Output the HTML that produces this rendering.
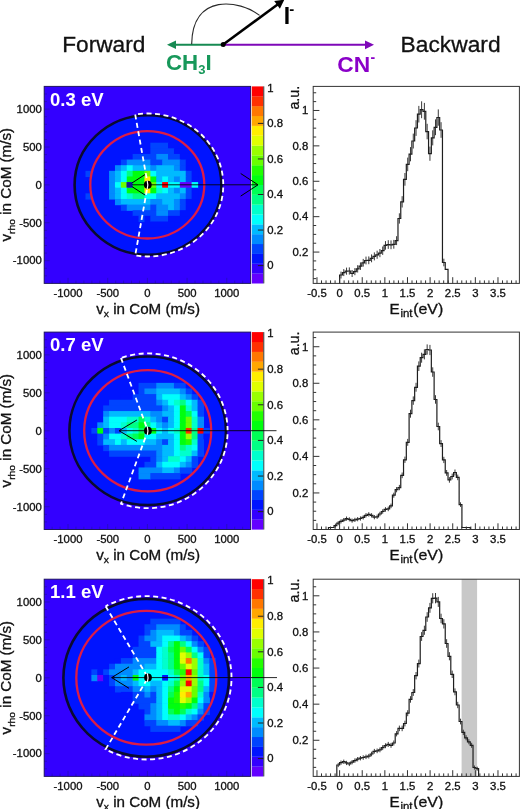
<!DOCTYPE html><html><head><meta charset="utf-8"><style>html,body{margin:0;padding:0;background:#fff;overflow:hidden}svg{display:block;filter:blur(0.35px)}text{font-family:'Liberation Sans',Arial,sans-serif}</style></head><body>
<svg width="520" height="809" viewBox="0 0 520 809">
<rect width="520" height="809" fill="#fff"/>
<g id="hdr">
<text transform="translate(62.2 52.1) scale(1.04 1)" font-size="21.8" fill="#111" stroke="#111" stroke-width="0.3">Forward</text>
<text transform="translate(400.6 52.1) scale(1.045 1)" font-size="21.8" fill="#111" stroke="#111" stroke-width="0.3">Backward</text>
<line x1="223.2" y1="44.8" x2="174" y2="44.8" stroke="#168a52" stroke-width="2"/>
<path d="M167 44.8 L176 40.6 L176 49 Z" fill="#168a52"/>
<line x1="223.2" y1="44.8" x2="366" y2="44.8" stroke="#7e08b8" stroke-width="2"/>
<path d="M374 44.8 L365 40.4 L365 49.2 Z" fill="#7e08b8"/>
<path d="M191.65 44.2 C192.42 -7.77 239.97 0.21 259.6 15.35" fill="none" stroke="#2a2a2a" stroke-width="1.15"/>
<line x1="223.2" y1="44.5" x2="277.6" y2="4.5" stroke="#000" stroke-width="2.5"/>
<path d="M284.3 -0.3 L274.2 0.9 L279.9 8.7 Z" fill="#000"/>
<circle cx="223.2" cy="44.6" r="2.5" fill="#000"/>
<text x="283.8" y="23.6" font-size="23" font-weight="bold" fill="#000">I</text>
<text x="289.3" y="14.4" font-size="15" font-weight="bold" fill="#000">-</text>
<text x="166" y="69.5" font-size="22.3" font-weight="bold" fill="#17985a">CH<tspan font-size="13" dy="4.5">3</tspan><tspan dy="-4.5">I</tspan></text>
<text x="337.3" y="71.6" font-size="22.8" font-weight="bold" fill="#8a00c8">CN</text>
<text x="370.6" y="62.4" font-size="14" font-weight="bold" fill="#8a00c8">-</text>
</g>
<g id="L0">
<rect x="44.2" y="86.4" width="206.4" height="197" fill="#3300ff"/>
<ellipse cx="148" cy="185" rx="73.4" ry="69.8" fill="#0014ff"/>
<rect x="150.35" y="142.69" width="18.29" height="6.23" fill="#0044ff"/>
<rect x="168.04" y="142.69" width="24.19" height="6.23" fill="#0014ff"/>
<rect x="138.55" y="148.31" width="12.39" height="6.23" fill="#0014ff"/>
<rect x="150.35" y="148.31" width="24.19" height="6.23" fill="#0044ff"/>
<rect x="173.94" y="148.31" width="18.29" height="6.23" fill="#0014ff"/>
<rect x="132.66" y="153.94" width="24.19" height="6.23" fill="#0044ff"/>
<rect x="156.25" y="153.94" width="12.39" height="6.23" fill="#008bff"/>
<rect x="168.04" y="153.94" width="12.39" height="6.23" fill="#0044ff"/>
<rect x="179.83" y="153.94" width="12.39" height="6.23" fill="#0014ff"/>
<rect x="120.86" y="159.57" width="6.5" height="6.23" fill="#0044ff"/>
<rect x="126.76" y="159.57" width="24.19" height="6.23" fill="#008bff"/>
<rect x="150.35" y="159.57" width="12.39" height="6.23" fill="#0044ff"/>
<rect x="162.14" y="159.57" width="18.29" height="6.23" fill="#008bff"/>
<rect x="179.83" y="159.57" width="6.5" height="6.23" fill="#0044ff"/>
<rect x="185.73" y="159.57" width="6.5" height="6.23" fill="#0014ff"/>
<rect x="114.97" y="165.2" width="6.5" height="6.23" fill="#008bff"/>
<rect x="120.86" y="165.2" width="6.5" height="6.23" fill="#00bbff"/>
<rect x="126.76" y="165.2" width="6.5" height="6.23" fill="#00fffc"/>
<rect x="132.66" y="165.2" width="18.29" height="6.23" fill="#00bbff"/>
<rect x="150.35" y="165.2" width="6.5" height="6.23" fill="#008bff"/>
<rect x="156.25" y="165.2" width="18.29" height="6.23" fill="#00bbff"/>
<rect x="173.94" y="165.2" width="6.5" height="6.23" fill="#008bff"/>
<rect x="179.83" y="165.2" width="6.5" height="6.23" fill="#0044ff"/>
<rect x="185.73" y="165.2" width="6.5" height="6.23" fill="#0014ff"/>
<rect x="85.48" y="170.83" width="6.5" height="6.23" fill="#0044ff"/>
<rect x="109.07" y="170.83" width="6.5" height="6.23" fill="#008bff"/>
<rect x="114.97" y="170.83" width="6.5" height="6.23" fill="#00bbff"/>
<rect x="120.86" y="170.83" width="6.5" height="6.23" fill="#00fffc"/>
<rect x="126.76" y="170.83" width="6.5" height="6.23" fill="#00ff85"/>
<rect x="132.66" y="170.83" width="12.39" height="6.23" fill="#00ff0e"/>
<rect x="144.45" y="170.83" width="6.5" height="6.23" fill="#69ff00"/>
<rect x="150.35" y="170.83" width="6.5" height="6.23" fill="#00fffc"/>
<rect x="156.25" y="170.83" width="30.09" height="6.23" fill="#00bbff"/>
<rect x="185.73" y="170.83" width="6.5" height="6.23" fill="#0044ff"/>
<rect x="191.63" y="170.83" width="6.5" height="6.23" fill="#0014ff"/>
<rect x="109.07" y="176.46" width="6.5" height="6.23" fill="#008bff"/>
<rect x="114.97" y="176.46" width="6.5" height="6.23" fill="#00bbff"/>
<rect x="120.86" y="176.46" width="6.5" height="6.23" fill="#00fffc"/>
<rect x="126.76" y="176.46" width="18.29" height="6.23" fill="#00ff0e"/>
<rect x="144.45" y="176.46" width="6.5" height="6.23" fill="#ffee00"/>
<rect x="150.35" y="176.46" width="6.5" height="6.23" fill="#00ff0e"/>
<rect x="156.25" y="176.46" width="6.5" height="6.23" fill="#00bbff"/>
<rect x="162.14" y="176.46" width="6.5" height="6.23" fill="#00fffc"/>
<rect x="168.04" y="176.46" width="6.5" height="6.23" fill="#00bbff"/>
<rect x="173.94" y="176.46" width="6.5" height="6.23" fill="#008bff"/>
<rect x="179.83" y="176.46" width="6.5" height="6.23" fill="#00bbff"/>
<rect x="185.73" y="176.46" width="6.5" height="6.23" fill="#0044ff"/>
<rect x="191.63" y="176.46" width="6.5" height="6.23" fill="#0014ff"/>
<rect x="109.07" y="182.09" width="6.5" height="6.23" fill="#008bff"/>
<rect x="114.97" y="182.09" width="6.5" height="6.23" fill="#00fffc"/>
<rect x="120.86" y="182.09" width="6.5" height="6.23" fill="#69ff00"/>
<rect x="126.76" y="182.09" width="6.5" height="6.23" fill="#0044ff"/>
<rect x="132.66" y="182.09" width="12.39" height="6.23" fill="#00ff0e"/>
<rect x="144.45" y="182.09" width="6.5" height="6.23" fill="#ffee00"/>
<rect x="150.35" y="182.09" width="6.5" height="6.23" fill="#69ff00"/>
<rect x="156.25" y="182.09" width="6.5" height="6.23" fill="#00fffc"/>
<rect x="162.14" y="182.09" width="6.5" height="6.23" fill="#ff0000"/>
<rect x="168.04" y="182.09" width="12.39" height="6.23" fill="#00fffc"/>
<rect x="179.83" y="182.09" width="12.39" height="6.23" fill="#6300ff"/>
<rect x="191.63" y="182.09" width="6.5" height="6.23" fill="#00fffc"/>
<rect x="203.42" y="182.09" width="6.5" height="6.23" fill="#0014ff"/>
<rect x="109.07" y="187.71" width="6.5" height="6.23" fill="#008bff"/>
<rect x="114.97" y="187.71" width="6.5" height="6.23" fill="#00bbff"/>
<rect x="120.86" y="187.71" width="6.5" height="6.23" fill="#00fffc"/>
<rect x="126.76" y="187.71" width="18.29" height="6.23" fill="#00ff0e"/>
<rect x="144.45" y="187.71" width="6.5" height="6.23" fill="#ffee00"/>
<rect x="150.35" y="187.71" width="6.5" height="6.23" fill="#00ff0e"/>
<rect x="156.25" y="187.71" width="6.5" height="6.23" fill="#00ffcc"/>
<rect x="162.14" y="187.71" width="6.5" height="6.23" fill="#00fffc"/>
<rect x="168.04" y="187.71" width="6.5" height="6.23" fill="#00bbff"/>
<rect x="173.94" y="187.71" width="6.5" height="6.23" fill="#008bff"/>
<rect x="179.83" y="187.71" width="6.5" height="6.23" fill="#00bbff"/>
<rect x="185.73" y="187.71" width="6.5" height="6.23" fill="#0044ff"/>
<rect x="191.63" y="187.71" width="6.5" height="6.23" fill="#0014ff"/>
<rect x="85.48" y="193.34" width="6.5" height="6.23" fill="#0044ff"/>
<rect x="109.07" y="193.34" width="6.5" height="6.23" fill="#008bff"/>
<rect x="114.97" y="193.34" width="6.5" height="6.23" fill="#00bbff"/>
<rect x="120.86" y="193.34" width="6.5" height="6.23" fill="#00fffc"/>
<rect x="126.76" y="193.34" width="6.5" height="6.23" fill="#00ffcc"/>
<rect x="132.66" y="193.34" width="12.39" height="6.23" fill="#00ff85"/>
<rect x="144.45" y="193.34" width="12.39" height="6.23" fill="#00fffc"/>
<rect x="156.25" y="193.34" width="24.19" height="6.23" fill="#00bbff"/>
<rect x="179.83" y="193.34" width="6.5" height="6.23" fill="#008bff"/>
<rect x="185.73" y="193.34" width="6.5" height="6.23" fill="#0044ff"/>
<rect x="191.63" y="193.34" width="6.5" height="6.23" fill="#0014ff"/>
<rect x="114.97" y="198.97" width="6.5" height="6.23" fill="#008bff"/>
<rect x="120.86" y="198.97" width="30.09" height="6.23" fill="#00bbff"/>
<rect x="150.35" y="198.97" width="12.39" height="6.23" fill="#008bff"/>
<rect x="162.14" y="198.97" width="12.39" height="6.23" fill="#00bbff"/>
<rect x="173.94" y="198.97" width="6.5" height="6.23" fill="#008bff"/>
<rect x="179.83" y="198.97" width="6.5" height="6.23" fill="#0044ff"/>
<rect x="185.73" y="198.97" width="6.5" height="6.23" fill="#0014ff"/>
<rect x="120.86" y="204.6" width="6.5" height="6.23" fill="#0044ff"/>
<rect x="126.76" y="204.6" width="24.19" height="6.23" fill="#008bff"/>
<rect x="150.35" y="204.6" width="6.5" height="6.23" fill="#0044ff"/>
<rect x="156.25" y="204.6" width="12.39" height="6.23" fill="#008bff"/>
<rect x="168.04" y="204.6" width="6.5" height="6.23" fill="#00bbff"/>
<rect x="173.94" y="204.6" width="6.5" height="6.23" fill="#008bff"/>
<rect x="179.83" y="204.6" width="6.5" height="6.23" fill="#0044ff"/>
<rect x="185.73" y="204.6" width="6.5" height="6.23" fill="#0014ff"/>
<rect x="132.66" y="210.23" width="24.19" height="6.23" fill="#0044ff"/>
<rect x="156.25" y="210.23" width="12.39" height="6.23" fill="#008bff"/>
<rect x="168.04" y="210.23" width="12.39" height="6.23" fill="#0044ff"/>
<rect x="179.83" y="210.23" width="12.39" height="6.23" fill="#0014ff"/>
<rect x="132.66" y="215.86" width="6.5" height="6.23" fill="#0014ff"/>
<rect x="138.55" y="215.86" width="6.5" height="6.23" fill="#0044ff"/>
<rect x="144.45" y="215.86" width="6.5" height="6.23" fill="#0014ff"/>
<rect x="150.35" y="215.86" width="18.29" height="6.23" fill="#0044ff"/>
<rect x="168.04" y="215.86" width="12.39" height="6.23" fill="#0014ff"/>
<rect x="150.35" y="221.49" width="24.19" height="6.23" fill="#0014ff"/>
<ellipse cx="148" cy="185" rx="73.4" ry="69.8" fill="none" stroke="#0a0a30" stroke-width="2.6"/><ellipse cx="147.3" cy="184.8" rx="57" ry="53.7" fill="none" stroke="#dc1c46" stroke-width="2.3"/><path d="M135.2 114.5 L147.8 184.8 L135.2 255.5 A75.5 71.5 0 1 0 135.2 114.5" fill="none" stroke="#fff" stroke-width="1.8" stroke-dasharray="5 3.5"/><path d="M145.1 174.5 L129.2 184.8 L145.1 195.10000000000002" fill="none" stroke="#000" stroke-width="1"/><line x1="129.2" y1="184.8" x2="250.6" y2="184.8" stroke="#000" stroke-width="1" opacity="0.85"/><rect x="126.6" y="182.20000000000002" width="5.2" height="5.2" fill="#1a1890"/><ellipse cx="147.8" cy="184.8" rx="3.9" ry="4" fill="#000"/><path d="M147.20000000000002 180.60000000000002 Q148.4 184.8 147.20000000000002 189.0" fill="none" stroke="#fff" stroke-width="1.2"/>
<path d="M52.14 283.4v-2.8 M60.08 283.4v-2.8 M68.02 283.4v-5.5 M75.95 283.4v-2.8 M83.89 283.4v-2.8 M91.83 283.4v-2.8 M99.77 283.4v-2.8 M107.71 283.4v-5.5 M115.65 283.4v-2.8 M123.58 283.4v-2.8 M131.52 283.4v-2.8 M139.46 283.4v-2.8 M147.4 283.4v-5.5 M155.34 283.4v-2.8 M163.28 283.4v-2.8 M171.22 283.4v-2.8 M179.15 283.4v-2.8 M187.09 283.4v-5.5 M195.03 283.4v-2.8 M202.97 283.4v-2.8 M210.91 283.4v-2.8 M218.85 283.4v-2.8 M226.78 283.4v-5.5 M234.72 283.4v-2.8 M242.66 283.4v-2.8 M44.2 275.82h2.8 M44.2 268.25h2.8 M44.2 260.67h5.5 M44.2 253.09h2.8 M44.2 245.52h2.8 M44.2 237.94h2.8 M44.2 230.36h2.8 M44.2 222.78h5.5 M44.2 215.21h2.8 M44.2 207.63h2.8 M44.2 200.05h2.8 M44.2 192.48h2.8 M44.2 184.9h5.5 M44.2 177.32h2.8 M44.2 169.75h2.8 M44.2 162.17h2.8 M44.2 154.59h2.8 M44.2 147.02h5.5 M44.2 139.44h2.8 M44.2 131.86h2.8 M44.2 124.28h2.8 M44.2 116.71h2.8 M44.2 109.13h5.5 M44.2 101.55h2.8 M44.2 93.98h2.8" stroke="#102060" stroke-width="1" fill="none" opacity="0.35"/>
<rect x="44.2" y="86.4" width="206.4" height="197" fill="none" stroke="#140c50" stroke-width="1" opacity="0.9"/>
<text transform="translate(50 105.6) scale(1.03 1)" font-size="18" font-weight="bold" fill="#fff">0.3 eV</text>
<text transform="translate(68.02 296.9) scale(1.08 1)" font-size="10.5" text-anchor="middle" fill="#111" stroke="#111" stroke-width="0.3">-1000</text>
<text transform="translate(41.8 264.47) scale(1.08 1)" font-size="10.5" text-anchor="end" fill="#111" stroke="#111" stroke-width="0.3">-1000</text>
<text transform="translate(107.71 296.9) scale(1.08 1)" font-size="10.5" text-anchor="middle" fill="#111" stroke="#111" stroke-width="0.3">-500</text>
<text transform="translate(41.8 226.58) scale(1.08 1)" font-size="10.5" text-anchor="end" fill="#111" stroke="#111" stroke-width="0.3">-500</text>
<text transform="translate(147.4 296.9) scale(1.08 1)" font-size="10.5" text-anchor="middle" fill="#111" stroke="#111" stroke-width="0.3">0</text>
<text transform="translate(41.8 188.7) scale(1.08 1)" font-size="10.5" text-anchor="end" fill="#111" stroke="#111" stroke-width="0.3">0</text>
<text transform="translate(187.09 296.9) scale(1.08 1)" font-size="10.5" text-anchor="middle" fill="#111" stroke="#111" stroke-width="0.3">500</text>
<text transform="translate(41.8 150.82) scale(1.08 1)" font-size="10.5" text-anchor="end" fill="#111" stroke="#111" stroke-width="0.3">500</text>
<text transform="translate(226.78 296.9) scale(1.08 1)" font-size="10.5" text-anchor="middle" fill="#111" stroke="#111" stroke-width="0.3">1000</text>
<text transform="translate(41.8 112.93) scale(1.08 1)" font-size="10.5" text-anchor="end" fill="#111" stroke="#111" stroke-width="0.3">1000</text>
<text transform="translate(96.2 313.7) scale(1.085 1)" font-size="14" fill="#111" stroke="#111" stroke-width="0.3">v<tspan font-size="9.5" dy="3">x</tspan><tspan dy="-3"> in CoM (m/s)</tspan></text>
<text transform="translate(11.2 241.5) rotate(-90) scale(1.085 1)" font-size="14" fill="#111" stroke="#111" stroke-width="0.3">v<tspan font-size="9.5" dy="3.4">rho</tspan><tspan dy="-3.4"> in CoM (m/s)</tspan></text>
<rect x="251.8" y="273.55" width="11.6" height="9.95" fill="#6300ff"/>
<rect x="251.8" y="263.7" width="11.6" height="9.95" fill="#3300ff"/>
<rect x="251.8" y="253.85" width="11.6" height="9.95" fill="#0014ff"/>
<rect x="251.8" y="244" width="11.6" height="9.95" fill="#0044ff"/>
<rect x="251.8" y="234.15" width="11.6" height="9.95" fill="#008bff"/>
<rect x="251.8" y="224.3" width="11.6" height="9.95" fill="#00bbff"/>
<rect x="251.8" y="214.45" width="11.6" height="9.95" fill="#00fffc"/>
<rect x="251.8" y="204.6" width="11.6" height="9.95" fill="#00ffcc"/>
<rect x="251.8" y="194.75" width="11.6" height="9.95" fill="#00ff85"/>
<rect x="251.8" y="184.9" width="11.6" height="9.95" fill="#00ff55"/>
<rect x="251.8" y="175.05" width="11.6" height="9.95" fill="#00ff0e"/>
<rect x="251.8" y="165.2" width="11.6" height="9.95" fill="#22ff00"/>
<rect x="251.8" y="155.35" width="11.6" height="9.95" fill="#69ff00"/>
<rect x="251.8" y="145.5" width="11.6" height="9.95" fill="#99ff00"/>
<rect x="251.8" y="135.65" width="11.6" height="9.95" fill="#e0ff00"/>
<rect x="251.8" y="125.8" width="11.6" height="9.95" fill="#ffee00"/>
<rect x="251.8" y="115.95" width="11.6" height="9.95" fill="#ffa700"/>
<rect x="251.8" y="106.1" width="11.6" height="9.95" fill="#ff7700"/>
<rect x="251.8" y="96.25" width="11.6" height="9.95" fill="#ff3000"/>
<rect x="251.8" y="86.4" width="11.6" height="9.95" fill="#ff0000"/>
<line x1="263.8" y1="86.4" x2="263.8" y2="283.4" stroke="#1a2a2a" stroke-width="0.9"/>
<line x1="257.9" y1="265.62" x2="263.4" y2="265.62" stroke="#222" stroke-width="1"/>
<text transform="translate(267.3 269.42) scale(1.08 1)" font-size="10.5" fill="#111" stroke="#111" stroke-width="0.3">0</text>
<line x1="257.9" y1="230.06" x2="263.4" y2="230.06" stroke="#222" stroke-width="1"/>
<text transform="translate(267.3 233.86) scale(1.08 1)" font-size="10.5" fill="#111" stroke="#111" stroke-width="0.3">0.2</text>
<line x1="257.9" y1="194.5" x2="263.4" y2="194.5" stroke="#222" stroke-width="1"/>
<text transform="translate(267.3 198.3) scale(1.08 1)" font-size="10.5" fill="#111" stroke="#111" stroke-width="0.3">0.4</text>
<line x1="257.9" y1="158.94" x2="263.4" y2="158.94" stroke="#222" stroke-width="1"/>
<text transform="translate(267.3 162.74) scale(1.08 1)" font-size="10.5" fill="#111" stroke="#111" stroke-width="0.3">0.6</text>
<line x1="257.9" y1="123.38" x2="263.4" y2="123.38" stroke="#222" stroke-width="1"/>
<text transform="translate(267.3 127.18) scale(1.08 1)" font-size="10.5" fill="#111" stroke="#111" stroke-width="0.3">0.8</text>
<text transform="translate(267.3 91.62) scale(1.08 1)" font-size="10.5" fill="#111" stroke="#111" stroke-width="0.3">1</text>
<line x1="250.6" y1="184.8" x2="258" y2="184.8" stroke="#000" stroke-width="1" opacity="0.85"/><path d="M240.7 173.5 L258 184.8 L240.7 196.10000000000002" fill="none" stroke="#000" stroke-width="1"/>
</g>
<g id="L1">
<rect x="44.2" y="332.1" width="206.4" height="197.4" fill="#3300ff"/>
<ellipse cx="147.7" cy="430.8" rx="78.3" ry="74.3" fill="#0014ff"/>
<rect x="150.35" y="377.22" width="24.19" height="6.24" fill="#0014ff"/>
<rect x="138.55" y="382.86" width="18.29" height="6.24" fill="#0044ff"/>
<rect x="156.25" y="382.86" width="18.29" height="6.24" fill="#008bff"/>
<rect x="173.94" y="382.86" width="12.39" height="6.24" fill="#0044ff"/>
<rect x="185.73" y="382.86" width="6.5" height="6.24" fill="#0014ff"/>
<rect x="138.55" y="388.5" width="6.5" height="6.24" fill="#0044ff"/>
<rect x="144.45" y="388.5" width="12.39" height="6.24" fill="#008bff"/>
<rect x="156.25" y="388.5" width="24.19" height="6.24" fill="#00bbff"/>
<rect x="179.83" y="388.5" width="6.5" height="6.24" fill="#008bff"/>
<rect x="185.73" y="388.5" width="6.5" height="6.24" fill="#0044ff"/>
<rect x="120.86" y="394.14" width="12.39" height="6.24" fill="#0014ff"/>
<rect x="132.66" y="394.14" width="24.19" height="6.24" fill="#0044ff"/>
<rect x="156.25" y="394.14" width="6.5" height="6.24" fill="#00bbff"/>
<rect x="162.14" y="394.14" width="18.29" height="6.24" fill="#00fffc"/>
<rect x="179.83" y="394.14" width="6.5" height="6.24" fill="#00bbff"/>
<rect x="185.73" y="394.14" width="6.5" height="6.24" fill="#008bff"/>
<rect x="191.63" y="394.14" width="6.5" height="6.24" fill="#0044ff"/>
<rect x="109.07" y="399.78" width="47.78" height="6.24" fill="#0044ff"/>
<rect x="156.25" y="399.78" width="6.5" height="6.24" fill="#008bff"/>
<rect x="162.14" y="399.78" width="6.5" height="6.24" fill="#00bbff"/>
<rect x="168.04" y="399.78" width="6.5" height="6.24" fill="#00fffc"/>
<rect x="173.94" y="399.78" width="6.5" height="6.24" fill="#00ffcc"/>
<rect x="179.83" y="399.78" width="6.5" height="6.24" fill="#00ff85"/>
<rect x="185.73" y="399.78" width="6.5" height="6.24" fill="#00fffc"/>
<rect x="191.63" y="399.78" width="6.5" height="6.24" fill="#00bbff"/>
<rect x="197.53" y="399.78" width="6.5" height="6.24" fill="#0044ff"/>
<rect x="103.17" y="405.42" width="59.57" height="6.24" fill="#0044ff"/>
<rect x="162.14" y="405.42" width="6.5" height="6.24" fill="#008bff"/>
<rect x="168.04" y="405.42" width="6.5" height="6.24" fill="#00bbff"/>
<rect x="173.94" y="405.42" width="6.5" height="6.24" fill="#00fffc"/>
<rect x="179.83" y="405.42" width="6.5" height="6.24" fill="#00ff0e"/>
<rect x="185.73" y="405.42" width="6.5" height="6.24" fill="#00ffcc"/>
<rect x="191.63" y="405.42" width="6.5" height="6.24" fill="#00bbff"/>
<rect x="197.53" y="405.42" width="6.5" height="6.24" fill="#0044ff"/>
<rect x="103.17" y="411.06" width="6.5" height="6.24" fill="#008bff"/>
<rect x="109.07" y="411.06" width="41.88" height="6.24" fill="#00bbff"/>
<rect x="150.35" y="411.06" width="12.39" height="6.24" fill="#008bff"/>
<rect x="162.14" y="411.06" width="12.39" height="6.24" fill="#00bbff"/>
<rect x="173.94" y="411.06" width="6.5" height="6.24" fill="#00fffc"/>
<rect x="179.83" y="411.06" width="6.5" height="6.24" fill="#00ff0e"/>
<rect x="185.73" y="411.06" width="6.5" height="6.24" fill="#00ff55"/>
<rect x="191.63" y="411.06" width="6.5" height="6.24" fill="#00fffc"/>
<rect x="197.53" y="411.06" width="6.5" height="6.24" fill="#0044ff"/>
<rect x="103.17" y="416.7" width="6.5" height="6.24" fill="#00bbff"/>
<rect x="109.07" y="416.7" width="18.29" height="6.24" fill="#00fffc"/>
<rect x="126.76" y="416.7" width="12.39" height="6.24" fill="#00ffcc"/>
<rect x="138.55" y="416.7" width="6.5" height="6.24" fill="#00ff55"/>
<rect x="144.45" y="416.7" width="6.5" height="6.24" fill="#00ffcc"/>
<rect x="150.35" y="416.7" width="6.5" height="6.24" fill="#00bbff"/>
<rect x="156.25" y="416.7" width="6.5" height="6.24" fill="#008bff"/>
<rect x="162.14" y="416.7" width="6.5" height="6.24" fill="#0044ff"/>
<rect x="168.04" y="416.7" width="6.5" height="6.24" fill="#00bbff"/>
<rect x="173.94" y="416.7" width="6.5" height="6.24" fill="#00fffc"/>
<rect x="179.83" y="416.7" width="6.5" height="6.24" fill="#00ff0e"/>
<rect x="185.73" y="416.7" width="6.5" height="6.24" fill="#69ff00"/>
<rect x="191.63" y="416.7" width="6.5" height="6.24" fill="#00ffcc"/>
<rect x="197.53" y="416.7" width="6.5" height="6.24" fill="#008bff"/>
<rect x="97.27" y="422.34" width="6.5" height="6.24" fill="#008bff"/>
<rect x="103.17" y="422.34" width="6.5" height="6.24" fill="#00bbff"/>
<rect x="109.07" y="422.34" width="12.39" height="6.24" fill="#00fffc"/>
<rect x="120.86" y="422.34" width="6.5" height="6.24" fill="#00ffcc"/>
<rect x="126.76" y="422.34" width="12.39" height="6.24" fill="#00ff85"/>
<rect x="138.55" y="422.34" width="6.5" height="6.24" fill="#00ff0e"/>
<rect x="144.45" y="422.34" width="6.5" height="6.24" fill="#00ff85"/>
<rect x="150.35" y="422.34" width="6.5" height="6.24" fill="#00fffc"/>
<rect x="156.25" y="422.34" width="6.5" height="6.24" fill="#00bbff"/>
<rect x="162.14" y="422.34" width="6.5" height="6.24" fill="#008bff"/>
<rect x="168.04" y="422.34" width="6.5" height="6.24" fill="#00bbff"/>
<rect x="173.94" y="422.34" width="6.5" height="6.24" fill="#00fffc"/>
<rect x="179.83" y="422.34" width="6.5" height="6.24" fill="#00ff0e"/>
<rect x="185.73" y="422.34" width="6.5" height="6.24" fill="#69ff00"/>
<rect x="191.63" y="422.34" width="6.5" height="6.24" fill="#00ffcc"/>
<rect x="197.53" y="422.34" width="6.5" height="6.24" fill="#008bff"/>
<rect x="91.38" y="427.98" width="6.5" height="6.24" fill="#0044ff"/>
<rect x="97.27" y="427.98" width="6.5" height="6.24" fill="#00ff0e"/>
<rect x="103.17" y="427.98" width="6.5" height="6.24" fill="#0044ff"/>
<rect x="109.07" y="427.98" width="6.5" height="6.24" fill="#008bff"/>
<rect x="114.97" y="427.98" width="6.5" height="6.24" fill="#0044ff"/>
<rect x="120.86" y="427.98" width="6.5" height="6.24" fill="#00bbff"/>
<rect x="126.76" y="427.98" width="6.5" height="6.24" fill="#00fffc"/>
<rect x="132.66" y="427.98" width="6.5" height="6.24" fill="#00ffcc"/>
<rect x="138.55" y="427.98" width="6.5" height="6.24" fill="#00ff55"/>
<rect x="144.45" y="427.98" width="6.5" height="6.24" fill="#69ff00"/>
<rect x="150.35" y="427.98" width="6.5" height="6.24" fill="#00ff0e"/>
<rect x="156.25" y="427.98" width="6.5" height="6.24" fill="#00fffc"/>
<rect x="162.14" y="427.98" width="6.5" height="6.24" fill="#00bbff"/>
<rect x="168.04" y="427.98" width="6.5" height="6.24" fill="#00fffc"/>
<rect x="173.94" y="427.98" width="6.5" height="6.24" fill="#00ffcc"/>
<rect x="179.83" y="427.98" width="6.5" height="6.24" fill="#00ff0e"/>
<rect x="185.73" y="427.98" width="6.5" height="6.24" fill="#ff3000"/>
<rect x="191.63" y="427.98" width="6.5" height="6.24" fill="#00ff85"/>
<rect x="197.53" y="427.98" width="6.5" height="6.24" fill="#ff0000"/>
<rect x="203.42" y="427.98" width="6.5" height="6.24" fill="#0044ff"/>
<rect x="91.38" y="433.62" width="6.5" height="6.24" fill="#0014ff"/>
<rect x="97.27" y="433.62" width="6.5" height="6.24" fill="#0044ff"/>
<rect x="103.17" y="433.62" width="6.5" height="6.24" fill="#008bff"/>
<rect x="109.07" y="433.62" width="12.39" height="6.24" fill="#00fffc"/>
<rect x="120.86" y="433.62" width="6.5" height="6.24" fill="#00ffcc"/>
<rect x="126.76" y="433.62" width="6.5" height="6.24" fill="#00ff85"/>
<rect x="132.66" y="433.62" width="6.5" height="6.24" fill="#00ff55"/>
<rect x="138.55" y="433.62" width="6.5" height="6.24" fill="#00ff0e"/>
<rect x="144.45" y="433.62" width="12.39" height="6.24" fill="#00fffc"/>
<rect x="156.25" y="433.62" width="18.29" height="6.24" fill="#00bbff"/>
<rect x="173.94" y="433.62" width="6.5" height="6.24" fill="#00fffc"/>
<rect x="179.83" y="433.62" width="6.5" height="6.24" fill="#00ff0e"/>
<rect x="185.73" y="433.62" width="6.5" height="6.24" fill="#99ff00"/>
<rect x="191.63" y="433.62" width="6.5" height="6.24" fill="#00ff85"/>
<rect x="197.53" y="433.62" width="6.5" height="6.24" fill="#0044ff"/>
<rect x="203.42" y="433.62" width="6.5" height="6.24" fill="#0014ff"/>
<rect x="97.27" y="439.26" width="6.5" height="6.24" fill="#0044ff"/>
<rect x="103.17" y="439.26" width="12.39" height="6.24" fill="#00bbff"/>
<rect x="114.97" y="439.26" width="6.5" height="6.24" fill="#00fffc"/>
<rect x="120.86" y="439.26" width="6.5" height="6.24" fill="#00bbff"/>
<rect x="126.76" y="439.26" width="18.29" height="6.24" fill="#00fffc"/>
<rect x="144.45" y="439.26" width="12.39" height="6.24" fill="#00bbff"/>
<rect x="156.25" y="439.26" width="6.5" height="6.24" fill="#008bff"/>
<rect x="162.14" y="439.26" width="6.5" height="6.24" fill="#0044ff"/>
<rect x="168.04" y="439.26" width="6.5" height="6.24" fill="#00bbff"/>
<rect x="173.94" y="439.26" width="6.5" height="6.24" fill="#00fffc"/>
<rect x="179.83" y="439.26" width="6.5" height="6.24" fill="#00ff0e"/>
<rect x="185.73" y="439.26" width="6.5" height="6.24" fill="#22ff00"/>
<rect x="191.63" y="439.26" width="6.5" height="6.24" fill="#00ffcc"/>
<rect x="197.53" y="439.26" width="6.5" height="6.24" fill="#0044ff"/>
<rect x="103.17" y="444.9" width="6.5" height="6.24" fill="#0044ff"/>
<rect x="109.07" y="444.9" width="53.67" height="6.24" fill="#008bff"/>
<rect x="162.14" y="444.9" width="12.39" height="6.24" fill="#00bbff"/>
<rect x="173.94" y="444.9" width="6.5" height="6.24" fill="#00fffc"/>
<rect x="179.83" y="444.9" width="6.5" height="6.24" fill="#00ff85"/>
<rect x="185.73" y="444.9" width="6.5" height="6.24" fill="#00ffcc"/>
<rect x="191.63" y="444.9" width="6.5" height="6.24" fill="#00fffc"/>
<rect x="197.53" y="444.9" width="6.5" height="6.24" fill="#0044ff"/>
<rect x="109.07" y="450.54" width="47.78" height="6.24" fill="#0044ff"/>
<rect x="156.25" y="450.54" width="6.5" height="6.24" fill="#008bff"/>
<rect x="162.14" y="450.54" width="12.39" height="6.24" fill="#00bbff"/>
<rect x="173.94" y="450.54" width="6.5" height="6.24" fill="#00fffc"/>
<rect x="179.83" y="450.54" width="12.39" height="6.24" fill="#00ffcc"/>
<rect x="191.63" y="450.54" width="6.5" height="6.24" fill="#00bbff"/>
<rect x="197.53" y="450.54" width="6.5" height="6.24" fill="#0044ff"/>
<rect x="150.35" y="456.18" width="6.5" height="6.24" fill="#0044ff"/>
<rect x="156.25" y="456.18" width="6.5" height="6.24" fill="#008bff"/>
<rect x="162.14" y="456.18" width="6.5" height="6.24" fill="#00bbff"/>
<rect x="168.04" y="456.18" width="12.39" height="6.24" fill="#00ffcc"/>
<rect x="179.83" y="456.18" width="6.5" height="6.24" fill="#00fffc"/>
<rect x="185.73" y="456.18" width="6.5" height="6.24" fill="#00bbff"/>
<rect x="191.63" y="456.18" width="6.5" height="6.24" fill="#0044ff"/>
<rect x="144.45" y="461.82" width="12.39" height="6.24" fill="#0044ff"/>
<rect x="156.25" y="461.82" width="6.5" height="6.24" fill="#00bbff"/>
<rect x="162.14" y="461.82" width="18.29" height="6.24" fill="#00fffc"/>
<rect x="179.83" y="461.82" width="6.5" height="6.24" fill="#00bbff"/>
<rect x="185.73" y="461.82" width="6.5" height="6.24" fill="#008bff"/>
<rect x="191.63" y="461.82" width="6.5" height="6.24" fill="#0044ff"/>
<rect x="138.55" y="467.46" width="24.19" height="6.24" fill="#008bff"/>
<rect x="162.14" y="467.46" width="12.39" height="6.24" fill="#00bbff"/>
<rect x="173.94" y="467.46" width="6.5" height="6.24" fill="#008bff"/>
<rect x="179.83" y="467.46" width="12.39" height="6.24" fill="#0044ff"/>
<rect x="138.55" y="473.1" width="12.39" height="6.24" fill="#008bff"/>
<rect x="150.35" y="473.1" width="30.09" height="6.24" fill="#0044ff"/>
<ellipse cx="147.7" cy="430.8" rx="78.3" ry="74.3" fill="none" stroke="#0a0a30" stroke-width="2.6"/><ellipse cx="147.7" cy="430.8" rx="63.5" ry="60.6" fill="none" stroke="#dc1c46" stroke-width="2.3"/><path d="M121.0 357.9 L147.9 430.7 L121.0 503.7 A79.8 77.4 0 1 0 121.0 357.9" fill="none" stroke="#fff" stroke-width="1.8" stroke-dasharray="5 3.5"/><path d="M136.9 420.0 L119 430.7 L136.9 441.4" fill="none" stroke="#000" stroke-width="1"/><line x1="119" y1="430.7" x2="250.6" y2="430.7" stroke="#000" stroke-width="1" opacity="0.85"/><ellipse cx="147.9" cy="430.7" rx="3.9" ry="4" fill="#000"/><path d="M147.3 426.5 Q148.5 430.7 147.3 434.9" fill="none" stroke="#fff" stroke-width="1.2"/>
<path d="M52.14 529.5v-2.8 M60.08 529.5v-2.8 M68.02 529.5v-5.5 M75.95 529.5v-2.8 M83.89 529.5v-2.8 M91.83 529.5v-2.8 M99.77 529.5v-2.8 M107.71 529.5v-5.5 M115.65 529.5v-2.8 M123.58 529.5v-2.8 M131.52 529.5v-2.8 M139.46 529.5v-2.8 M147.4 529.5v-5.5 M155.34 529.5v-2.8 M163.28 529.5v-2.8 M171.22 529.5v-2.8 M179.15 529.5v-2.8 M187.09 529.5v-5.5 M195.03 529.5v-2.8 M202.97 529.5v-2.8 M210.91 529.5v-2.8 M218.85 529.5v-2.8 M226.78 529.5v-5.5 M234.72 529.5v-2.8 M242.66 529.5v-2.8 M44.2 521.91h2.8 M44.2 514.32h2.8 M44.2 506.72h5.5 M44.2 499.13h2.8 M44.2 491.54h2.8 M44.2 483.95h2.8 M44.2 476.35h2.8 M44.2 468.76h5.5 M44.2 461.17h2.8 M44.2 453.58h2.8 M44.2 445.98h2.8 M44.2 438.39h2.8 M44.2 430.8h5.5 M44.2 423.21h2.8 M44.2 415.62h2.8 M44.2 408.02h2.8 M44.2 400.43h2.8 M44.2 392.84h5.5 M44.2 385.25h2.8 M44.2 377.65h2.8 M44.2 370.06h2.8 M44.2 362.47h2.8 M44.2 354.88h5.5 M44.2 347.28h2.8 M44.2 339.69h2.8" stroke="#102060" stroke-width="1" fill="none" opacity="0.35"/>
<rect x="44.2" y="332.1" width="206.4" height="197.4" fill="none" stroke="#140c50" stroke-width="1" opacity="0.9"/>
<text transform="translate(50 351.3) scale(1.03 1)" font-size="18" font-weight="bold" fill="#fff">0.7 eV</text>
<text transform="translate(68.02 543) scale(1.08 1)" font-size="10.5" text-anchor="middle" fill="#111" stroke="#111" stroke-width="0.3">-1000</text>
<text transform="translate(41.8 510.52) scale(1.08 1)" font-size="10.5" text-anchor="end" fill="#111" stroke="#111" stroke-width="0.3">-1000</text>
<text transform="translate(107.71 543) scale(1.08 1)" font-size="10.5" text-anchor="middle" fill="#111" stroke="#111" stroke-width="0.3">-500</text>
<text transform="translate(41.8 472.56) scale(1.08 1)" font-size="10.5" text-anchor="end" fill="#111" stroke="#111" stroke-width="0.3">-500</text>
<text transform="translate(147.4 543) scale(1.08 1)" font-size="10.5" text-anchor="middle" fill="#111" stroke="#111" stroke-width="0.3">0</text>
<text transform="translate(41.8 434.6) scale(1.08 1)" font-size="10.5" text-anchor="end" fill="#111" stroke="#111" stroke-width="0.3">0</text>
<text transform="translate(187.09 543) scale(1.08 1)" font-size="10.5" text-anchor="middle" fill="#111" stroke="#111" stroke-width="0.3">500</text>
<text transform="translate(41.8 396.64) scale(1.08 1)" font-size="10.5" text-anchor="end" fill="#111" stroke="#111" stroke-width="0.3">500</text>
<text transform="translate(226.78 543) scale(1.08 1)" font-size="10.5" text-anchor="middle" fill="#111" stroke="#111" stroke-width="0.3">1000</text>
<text transform="translate(41.8 358.68) scale(1.08 1)" font-size="10.5" text-anchor="end" fill="#111" stroke="#111" stroke-width="0.3">1000</text>
<text transform="translate(96.2 559.8) scale(1.085 1)" font-size="14" fill="#111" stroke="#111" stroke-width="0.3">v<tspan font-size="9.5" dy="3">x</tspan><tspan dy="-3"> in CoM (m/s)</tspan></text>
<text transform="translate(11.2 487.4) rotate(-90) scale(1.085 1)" font-size="14" fill="#111" stroke="#111" stroke-width="0.3">v<tspan font-size="9.5" dy="3.4">rho</tspan><tspan dy="-3.4"> in CoM (m/s)</tspan></text>
<rect x="251.8" y="519.63" width="11.6" height="9.97" fill="#6300ff"/>
<rect x="251.8" y="509.76" width="11.6" height="9.97" fill="#3300ff"/>
<rect x="251.8" y="499.89" width="11.6" height="9.97" fill="#0014ff"/>
<rect x="251.8" y="490.02" width="11.6" height="9.97" fill="#0044ff"/>
<rect x="251.8" y="480.15" width="11.6" height="9.97" fill="#008bff"/>
<rect x="251.8" y="470.28" width="11.6" height="9.97" fill="#00bbff"/>
<rect x="251.8" y="460.41" width="11.6" height="9.97" fill="#00fffc"/>
<rect x="251.8" y="450.54" width="11.6" height="9.97" fill="#00ffcc"/>
<rect x="251.8" y="440.67" width="11.6" height="9.97" fill="#00ff85"/>
<rect x="251.8" y="430.8" width="11.6" height="9.97" fill="#00ff55"/>
<rect x="251.8" y="420.93" width="11.6" height="9.97" fill="#00ff0e"/>
<rect x="251.8" y="411.06" width="11.6" height="9.97" fill="#22ff00"/>
<rect x="251.8" y="401.19" width="11.6" height="9.97" fill="#69ff00"/>
<rect x="251.8" y="391.32" width="11.6" height="9.97" fill="#99ff00"/>
<rect x="251.8" y="381.45" width="11.6" height="9.97" fill="#e0ff00"/>
<rect x="251.8" y="371.58" width="11.6" height="9.97" fill="#ffee00"/>
<rect x="251.8" y="361.71" width="11.6" height="9.97" fill="#ffa700"/>
<rect x="251.8" y="351.84" width="11.6" height="9.97" fill="#ff7700"/>
<rect x="251.8" y="341.97" width="11.6" height="9.97" fill="#ff3000"/>
<rect x="251.8" y="332.1" width="11.6" height="9.97" fill="#ff0000"/>
<line x1="263.8" y1="332.1" x2="263.8" y2="529.5" stroke="#1a2a2a" stroke-width="0.9"/>
<line x1="257.9" y1="511.68" x2="263.4" y2="511.68" stroke="#222" stroke-width="1"/>
<text transform="translate(267.3 515.48) scale(1.08 1)" font-size="10.5" fill="#111" stroke="#111" stroke-width="0.3">0</text>
<line x1="257.9" y1="476.05" x2="263.4" y2="476.05" stroke="#222" stroke-width="1"/>
<text transform="translate(267.3 479.85) scale(1.08 1)" font-size="10.5" fill="#111" stroke="#111" stroke-width="0.3">0.2</text>
<line x1="257.9" y1="440.42" x2="263.4" y2="440.42" stroke="#222" stroke-width="1"/>
<text transform="translate(267.3 444.22) scale(1.08 1)" font-size="10.5" fill="#111" stroke="#111" stroke-width="0.3">0.4</text>
<line x1="257.9" y1="404.79" x2="263.4" y2="404.79" stroke="#222" stroke-width="1"/>
<text transform="translate(267.3 408.59) scale(1.08 1)" font-size="10.5" fill="#111" stroke="#111" stroke-width="0.3">0.6</text>
<line x1="257.9" y1="369.16" x2="263.4" y2="369.16" stroke="#222" stroke-width="1"/>
<text transform="translate(267.3 372.96) scale(1.08 1)" font-size="10.5" fill="#111" stroke="#111" stroke-width="0.3">0.8</text>
<text transform="translate(267.3 337.33) scale(1.08 1)" font-size="10.5" fill="#111" stroke="#111" stroke-width="0.3">1</text>
<line x1="250.6" y1="430.7" x2="276.5" y2="430.7" stroke="#000" stroke-width="1" opacity="0.85"/>
</g>
<g id="L2">
<rect x="44.2" y="579.2" width="206.4" height="197.2" fill="#3300ff"/>
<ellipse cx="146.2" cy="677.8" rx="82.8" ry="78.9" fill="#0014ff"/>
<rect x="150.35" y="618.64" width="30.09" height="6.23" fill="#0044ff"/>
<rect x="144.45" y="624.27" width="12.39" height="6.23" fill="#0044ff"/>
<rect x="156.25" y="624.27" width="24.19" height="6.23" fill="#008bff"/>
<rect x="179.83" y="624.27" width="6.5" height="6.23" fill="#0044ff"/>
<rect x="185.73" y="624.27" width="6.5" height="6.23" fill="#0014ff"/>
<rect x="138.55" y="629.91" width="6.5" height="6.23" fill="#0014ff"/>
<rect x="144.45" y="629.91" width="6.5" height="6.23" fill="#0044ff"/>
<rect x="150.35" y="629.91" width="6.5" height="6.23" fill="#008bff"/>
<rect x="156.25" y="629.91" width="18.29" height="6.23" fill="#00bbff"/>
<rect x="173.94" y="629.91" width="6.5" height="6.23" fill="#008bff"/>
<rect x="179.83" y="629.91" width="12.39" height="6.23" fill="#0044ff"/>
<rect x="138.55" y="635.54" width="6.5" height="6.23" fill="#0044ff"/>
<rect x="144.45" y="635.54" width="12.39" height="6.23" fill="#008bff"/>
<rect x="156.25" y="635.54" width="6.5" height="6.23" fill="#00bbff"/>
<rect x="162.14" y="635.54" width="18.29" height="6.23" fill="#00fffc"/>
<rect x="179.83" y="635.54" width="6.5" height="6.23" fill="#00bbff"/>
<rect x="185.73" y="635.54" width="6.5" height="6.23" fill="#008bff"/>
<rect x="191.63" y="635.54" width="6.5" height="6.23" fill="#0044ff"/>
<rect x="138.55" y="641.18" width="12.39" height="6.23" fill="#0044ff"/>
<rect x="150.35" y="641.18" width="12.39" height="6.23" fill="#00bbff"/>
<rect x="162.14" y="641.18" width="6.5" height="6.23" fill="#00fffc"/>
<rect x="168.04" y="641.18" width="6.5" height="6.23" fill="#00ff85"/>
<rect x="173.94" y="641.18" width="6.5" height="6.23" fill="#00ff0e"/>
<rect x="179.83" y="641.18" width="6.5" height="6.23" fill="#00ff85"/>
<rect x="185.73" y="641.18" width="6.5" height="6.23" fill="#00fffc"/>
<rect x="191.63" y="641.18" width="6.5" height="6.23" fill="#008bff"/>
<rect x="197.53" y="641.18" width="6.5" height="6.23" fill="#0044ff"/>
<rect x="132.66" y="646.81" width="24.19" height="6.23" fill="#0044ff"/>
<rect x="156.25" y="646.81" width="6.5" height="6.23" fill="#00fffc"/>
<rect x="162.14" y="646.81" width="6.5" height="6.23" fill="#00ffcc"/>
<rect x="168.04" y="646.81" width="6.5" height="6.23" fill="#00ff55"/>
<rect x="173.94" y="646.81" width="6.5" height="6.23" fill="#00ff0e"/>
<rect x="179.83" y="646.81" width="6.5" height="6.23" fill="#69ff00"/>
<rect x="185.73" y="646.81" width="6.5" height="6.23" fill="#00ff55"/>
<rect x="191.63" y="646.81" width="6.5" height="6.23" fill="#00fffc"/>
<rect x="197.53" y="646.81" width="6.5" height="6.23" fill="#008bff"/>
<rect x="203.42" y="646.81" width="6.5" height="6.23" fill="#0044ff"/>
<rect x="132.66" y="652.45" width="24.19" height="6.23" fill="#0044ff"/>
<rect x="156.25" y="652.45" width="6.5" height="6.23" fill="#00fffc"/>
<rect x="162.14" y="652.45" width="6.5" height="6.23" fill="#00ffcc"/>
<rect x="168.04" y="652.45" width="6.5" height="6.23" fill="#00ff85"/>
<rect x="173.94" y="652.45" width="6.5" height="6.23" fill="#00ff0e"/>
<rect x="179.83" y="652.45" width="6.5" height="6.23" fill="#e0ff00"/>
<rect x="185.73" y="652.45" width="6.5" height="6.23" fill="#99ff00"/>
<rect x="191.63" y="652.45" width="6.5" height="6.23" fill="#00ff85"/>
<rect x="197.53" y="652.45" width="6.5" height="6.23" fill="#00fffc"/>
<rect x="203.42" y="652.45" width="6.5" height="6.23" fill="#0044ff"/>
<rect x="114.97" y="658.08" width="6.5" height="6.23" fill="#0014ff"/>
<rect x="120.86" y="658.08" width="12.39" height="6.23" fill="#0044ff"/>
<rect x="132.66" y="658.08" width="24.19" height="6.23" fill="#008bff"/>
<rect x="156.25" y="658.08" width="6.5" height="6.23" fill="#00fffc"/>
<rect x="162.14" y="658.08" width="6.5" height="6.23" fill="#00ffcc"/>
<rect x="168.04" y="658.08" width="6.5" height="6.23" fill="#00ff85"/>
<rect x="173.94" y="658.08" width="6.5" height="6.23" fill="#00ff0e"/>
<rect x="179.83" y="658.08" width="6.5" height="6.23" fill="#e0ff00"/>
<rect x="185.73" y="658.08" width="6.5" height="6.23" fill="#ff7700"/>
<rect x="191.63" y="658.08" width="6.5" height="6.23" fill="#99ff00"/>
<rect x="197.53" y="658.08" width="6.5" height="6.23" fill="#00ffcc"/>
<rect x="203.42" y="658.08" width="6.5" height="6.23" fill="#008bff"/>
<rect x="209.32" y="658.08" width="6.5" height="6.23" fill="#0044ff"/>
<rect x="109.07" y="663.71" width="6.5" height="6.23" fill="#0044ff"/>
<rect x="114.97" y="663.71" width="30.09" height="6.23" fill="#008bff"/>
<rect x="144.45" y="663.71" width="12.39" height="6.23" fill="#00bbff"/>
<rect x="156.25" y="663.71" width="6.5" height="6.23" fill="#00fffc"/>
<rect x="162.14" y="663.71" width="6.5" height="6.23" fill="#00ffcc"/>
<rect x="168.04" y="663.71" width="6.5" height="6.23" fill="#00ff85"/>
<rect x="173.94" y="663.71" width="6.5" height="6.23" fill="#00ff0e"/>
<rect x="179.83" y="663.71" width="6.5" height="6.23" fill="#69ff00"/>
<rect x="185.73" y="663.71" width="6.5" height="6.23" fill="#e0ff00"/>
<rect x="191.63" y="663.71" width="6.5" height="6.23" fill="#99ff00"/>
<rect x="197.53" y="663.71" width="6.5" height="6.23" fill="#00ffcc"/>
<rect x="203.42" y="663.71" width="6.5" height="6.23" fill="#00bbff"/>
<rect x="209.32" y="663.71" width="6.5" height="6.23" fill="#0044ff"/>
<rect x="91.38" y="669.35" width="6.5" height="6.23" fill="#0044ff"/>
<rect x="97.27" y="669.35" width="6.5" height="6.23" fill="#0014ff"/>
<rect x="103.17" y="669.35" width="6.5" height="6.23" fill="#0044ff"/>
<rect x="109.07" y="669.35" width="24.19" height="6.23" fill="#008bff"/>
<rect x="132.66" y="669.35" width="6.5" height="6.23" fill="#00bbff"/>
<rect x="138.55" y="669.35" width="30.09" height="6.23" fill="#00fffc"/>
<rect x="168.04" y="669.35" width="6.5" height="6.23" fill="#00ffcc"/>
<rect x="173.94" y="669.35" width="6.5" height="6.23" fill="#00ff55"/>
<rect x="179.83" y="669.35" width="6.5" height="6.23" fill="#22ff00"/>
<rect x="185.73" y="669.35" width="6.5" height="6.23" fill="#ff0000"/>
<rect x="191.63" y="669.35" width="6.5" height="6.23" fill="#69ff00"/>
<rect x="197.53" y="669.35" width="6.5" height="6.23" fill="#00ffcc"/>
<rect x="203.42" y="669.35" width="6.5" height="6.23" fill="#00bbff"/>
<rect x="209.32" y="669.35" width="6.5" height="6.23" fill="#0044ff"/>
<rect x="91.38" y="674.98" width="6.5" height="6.23" fill="#008bff"/>
<rect x="97.27" y="674.98" width="6.5" height="6.23" fill="#6300ff"/>
<rect x="103.17" y="674.98" width="6.5" height="6.23" fill="#0014ff"/>
<rect x="109.07" y="674.98" width="6.5" height="6.23" fill="#0044ff"/>
<rect x="114.97" y="674.98" width="6.5" height="6.23" fill="#008bff"/>
<rect x="120.86" y="674.98" width="6.5" height="6.23" fill="#00bbff"/>
<rect x="126.76" y="674.98" width="6.5" height="6.23" fill="#008bff"/>
<rect x="132.66" y="674.98" width="6.5" height="6.23" fill="#00ff0e"/>
<rect x="138.55" y="674.98" width="24.19" height="6.23" fill="#00fffc"/>
<rect x="162.14" y="674.98" width="6.5" height="6.23" fill="#0014ff"/>
<rect x="168.04" y="674.98" width="6.5" height="6.23" fill="#00fffc"/>
<rect x="173.94" y="674.98" width="6.5" height="6.23" fill="#00ffcc"/>
<rect x="179.83" y="674.98" width="6.5" height="6.23" fill="#69ff00"/>
<rect x="185.73" y="674.98" width="6.5" height="6.23" fill="#ffa700"/>
<rect x="191.63" y="674.98" width="6.5" height="6.23" fill="#99ff00"/>
<rect x="197.53" y="674.98" width="6.5" height="6.23" fill="#00ffcc"/>
<rect x="203.42" y="674.98" width="6.5" height="6.23" fill="#00fffc"/>
<rect x="209.32" y="674.98" width="6.5" height="6.23" fill="#0044ff"/>
<rect x="109.07" y="680.62" width="6.5" height="6.23" fill="#0044ff"/>
<rect x="114.97" y="680.62" width="18.29" height="6.23" fill="#008bff"/>
<rect x="132.66" y="680.62" width="6.5" height="6.23" fill="#00bbff"/>
<rect x="138.55" y="680.62" width="12.39" height="6.23" fill="#00fffc"/>
<rect x="150.35" y="680.62" width="12.39" height="6.23" fill="#00bbff"/>
<rect x="162.14" y="680.62" width="6.5" height="6.23" fill="#00fffc"/>
<rect x="168.04" y="680.62" width="6.5" height="6.23" fill="#00ffcc"/>
<rect x="173.94" y="680.62" width="6.5" height="6.23" fill="#00ff55"/>
<rect x="179.83" y="680.62" width="6.5" height="6.23" fill="#99ff00"/>
<rect x="185.73" y="680.62" width="6.5" height="6.23" fill="#ff0000"/>
<rect x="191.63" y="680.62" width="6.5" height="6.23" fill="#99ff00"/>
<rect x="197.53" y="680.62" width="6.5" height="6.23" fill="#00ff85"/>
<rect x="203.42" y="680.62" width="6.5" height="6.23" fill="#00fffc"/>
<rect x="209.32" y="680.62" width="6.5" height="6.23" fill="#0044ff"/>
<rect x="109.07" y="686.25" width="6.5" height="6.23" fill="#0014ff"/>
<rect x="114.97" y="686.25" width="18.29" height="6.23" fill="#0044ff"/>
<rect x="132.66" y="686.25" width="12.39" height="6.23" fill="#008bff"/>
<rect x="144.45" y="686.25" width="6.5" height="6.23" fill="#00bbff"/>
<rect x="150.35" y="686.25" width="6.5" height="6.23" fill="#008bff"/>
<rect x="156.25" y="686.25" width="6.5" height="6.23" fill="#00bbff"/>
<rect x="162.14" y="686.25" width="6.5" height="6.23" fill="#00fffc"/>
<rect x="168.04" y="686.25" width="6.5" height="6.23" fill="#00ff85"/>
<rect x="173.94" y="686.25" width="6.5" height="6.23" fill="#00ff0e"/>
<rect x="179.83" y="686.25" width="12.39" height="6.23" fill="#e0ff00"/>
<rect x="191.63" y="686.25" width="6.5" height="6.23" fill="#69ff00"/>
<rect x="197.53" y="686.25" width="6.5" height="6.23" fill="#00ff85"/>
<rect x="203.42" y="686.25" width="6.5" height="6.23" fill="#00bbff"/>
<rect x="209.32" y="686.25" width="6.5" height="6.23" fill="#0044ff"/>
<rect x="120.86" y="691.89" width="12.39" height="6.23" fill="#0014ff"/>
<rect x="132.66" y="691.89" width="12.39" height="6.23" fill="#0044ff"/>
<rect x="144.45" y="691.89" width="6.5" height="6.23" fill="#008bff"/>
<rect x="150.35" y="691.89" width="6.5" height="6.23" fill="#0044ff"/>
<rect x="156.25" y="691.89" width="6.5" height="6.23" fill="#00bbff"/>
<rect x="162.14" y="691.89" width="6.5" height="6.23" fill="#00fffc"/>
<rect x="168.04" y="691.89" width="6.5" height="6.23" fill="#00ff55"/>
<rect x="173.94" y="691.89" width="6.5" height="6.23" fill="#22ff00"/>
<rect x="179.83" y="691.89" width="6.5" height="6.23" fill="#ffee00"/>
<rect x="185.73" y="691.89" width="6.5" height="6.23" fill="#ffa700"/>
<rect x="191.63" y="691.89" width="6.5" height="6.23" fill="#69ff00"/>
<rect x="197.53" y="691.89" width="6.5" height="6.23" fill="#00ffcc"/>
<rect x="203.42" y="691.89" width="6.5" height="6.23" fill="#008bff"/>
<rect x="209.32" y="691.89" width="6.5" height="6.23" fill="#0014ff"/>
<rect x="132.66" y="697.52" width="24.19" height="6.23" fill="#0044ff"/>
<rect x="156.25" y="697.52" width="6.5" height="6.23" fill="#00bbff"/>
<rect x="162.14" y="697.52" width="6.5" height="6.23" fill="#00fffc"/>
<rect x="168.04" y="697.52" width="6.5" height="6.23" fill="#00ff0e"/>
<rect x="173.94" y="697.52" width="6.5" height="6.23" fill="#22ff00"/>
<rect x="179.83" y="697.52" width="6.5" height="6.23" fill="#e0ff00"/>
<rect x="185.73" y="697.52" width="6.5" height="6.23" fill="#99ff00"/>
<rect x="191.63" y="697.52" width="6.5" height="6.23" fill="#00ff0e"/>
<rect x="197.53" y="697.52" width="6.5" height="6.23" fill="#00fffc"/>
<rect x="203.42" y="697.52" width="6.5" height="6.23" fill="#008bff"/>
<rect x="138.55" y="703.15" width="12.39" height="6.23" fill="#0044ff"/>
<rect x="150.35" y="703.15" width="6.5" height="6.23" fill="#008bff"/>
<rect x="156.25" y="703.15" width="6.5" height="6.23" fill="#00bbff"/>
<rect x="162.14" y="703.15" width="6.5" height="6.23" fill="#00fffc"/>
<rect x="168.04" y="703.15" width="12.39" height="6.23" fill="#00ff0e"/>
<rect x="179.83" y="703.15" width="6.5" height="6.23" fill="#22ff00"/>
<rect x="185.73" y="703.15" width="6.5" height="6.23" fill="#00ff0e"/>
<rect x="191.63" y="703.15" width="6.5" height="6.23" fill="#00ff85"/>
<rect x="197.53" y="703.15" width="6.5" height="6.23" fill="#00bbff"/>
<rect x="203.42" y="703.15" width="6.5" height="6.23" fill="#0044ff"/>
<rect x="144.45" y="708.79" width="6.5" height="6.23" fill="#0044ff"/>
<rect x="150.35" y="708.79" width="6.5" height="6.23" fill="#008bff"/>
<rect x="156.25" y="708.79" width="6.5" height="6.23" fill="#00bbff"/>
<rect x="162.14" y="708.79" width="6.5" height="6.23" fill="#00fffc"/>
<rect x="168.04" y="708.79" width="6.5" height="6.23" fill="#00ff55"/>
<rect x="173.94" y="708.79" width="6.5" height="6.23" fill="#00ff0e"/>
<rect x="179.83" y="708.79" width="6.5" height="6.23" fill="#00ff55"/>
<rect x="185.73" y="708.79" width="6.5" height="6.23" fill="#00ffcc"/>
<rect x="191.63" y="708.79" width="6.5" height="6.23" fill="#00fffc"/>
<rect x="197.53" y="708.79" width="6.5" height="6.23" fill="#008bff"/>
<rect x="203.42" y="708.79" width="6.5" height="6.23" fill="#0044ff"/>
<rect x="144.45" y="714.42" width="12.39" height="6.23" fill="#008bff"/>
<rect x="156.25" y="714.42" width="6.5" height="6.23" fill="#00bbff"/>
<rect x="162.14" y="714.42" width="6.5" height="6.23" fill="#00fffc"/>
<rect x="168.04" y="714.42" width="12.39" height="6.23" fill="#00ffcc"/>
<rect x="179.83" y="714.42" width="6.5" height="6.23" fill="#00fffc"/>
<rect x="185.73" y="714.42" width="6.5" height="6.23" fill="#00bbff"/>
<rect x="191.63" y="714.42" width="6.5" height="6.23" fill="#008bff"/>
<rect x="197.53" y="714.42" width="6.5" height="6.23" fill="#0044ff"/>
<rect x="144.45" y="720.06" width="12.39" height="6.23" fill="#0044ff"/>
<rect x="156.25" y="720.06" width="12.39" height="6.23" fill="#008bff"/>
<rect x="168.04" y="720.06" width="12.39" height="6.23" fill="#00bbff"/>
<rect x="179.83" y="720.06" width="6.5" height="6.23" fill="#008bff"/>
<rect x="185.73" y="720.06" width="12.39" height="6.23" fill="#0044ff"/>
<rect x="150.35" y="725.69" width="30.09" height="6.23" fill="#0044ff"/>
<ellipse cx="146.2" cy="677.8" rx="82.8" ry="78.9" fill="none" stroke="#0a0a30" stroke-width="2.6"/><ellipse cx="146.3" cy="677.8" rx="70" ry="66.9" fill="none" stroke="#dc1c46" stroke-width="2.3"/><path d="M105.6 606.2 L148 677.6 L105.6 749.4 A85 81.7 0 1 0 105.6 606.2" fill="none" stroke="#fff" stroke-width="1.8" stroke-dasharray="5 3.5"/><path d="M129 666.9 L111.7 677.6 L129 688.3000000000001" fill="none" stroke="#000" stroke-width="1"/><line x1="111.7" y1="677.6" x2="250.6" y2="677.6" stroke="#000" stroke-width="1" opacity="0.85"/><ellipse cx="148" cy="677.6" rx="3.9" ry="4" fill="#000"/><path d="M147.4 673.4 Q148.6 677.6 147.4 681.8000000000001" fill="none" stroke="#fff" stroke-width="1.2"/>
<path d="M52.14 776.4v-2.8 M60.08 776.4v-2.8 M68.02 776.4v-5.5 M75.95 776.4v-2.8 M83.89 776.4v-2.8 M91.83 776.4v-2.8 M99.77 776.4v-2.8 M107.71 776.4v-5.5 M115.65 776.4v-2.8 M123.58 776.4v-2.8 M131.52 776.4v-2.8 M139.46 776.4v-2.8 M147.4 776.4v-5.5 M155.34 776.4v-2.8 M163.28 776.4v-2.8 M171.22 776.4v-2.8 M179.15 776.4v-2.8 M187.09 776.4v-5.5 M195.03 776.4v-2.8 M202.97 776.4v-2.8 M210.91 776.4v-2.8 M218.85 776.4v-2.8 M226.78 776.4v-5.5 M234.72 776.4v-2.8 M242.66 776.4v-2.8 M44.2 768.82h2.8 M44.2 761.23h2.8 M44.2 753.65h5.5 M44.2 746.06h2.8 M44.2 738.48h2.8 M44.2 730.89h2.8 M44.2 723.31h2.8 M44.2 715.72h5.5 M44.2 708.14h2.8 M44.2 700.55h2.8 M44.2 692.97h2.8 M44.2 685.38h2.8 M44.2 677.8h5.5 M44.2 670.22h2.8 M44.2 662.63h2.8 M44.2 655.05h2.8 M44.2 647.46h2.8 M44.2 639.88h5.5 M44.2 632.29h2.8 M44.2 624.71h2.8 M44.2 617.12h2.8 M44.2 609.54h2.8 M44.2 601.95h5.5 M44.2 594.37h2.8 M44.2 586.78h2.8" stroke="#102060" stroke-width="1" fill="none" opacity="0.35"/>
<rect x="44.2" y="579.2" width="206.4" height="197.2" fill="none" stroke="#140c50" stroke-width="1" opacity="0.9"/>
<text transform="translate(50 598.4) scale(1.03 1)" font-size="18" font-weight="bold" fill="#fff">1.1 eV</text>
<text transform="translate(68.02 789.9) scale(1.08 1)" font-size="10.5" text-anchor="middle" fill="#111" stroke="#111" stroke-width="0.3">-1000</text>
<text transform="translate(41.8 757.45) scale(1.08 1)" font-size="10.5" text-anchor="end" fill="#111" stroke="#111" stroke-width="0.3">-1000</text>
<text transform="translate(107.71 789.9) scale(1.08 1)" font-size="10.5" text-anchor="middle" fill="#111" stroke="#111" stroke-width="0.3">-500</text>
<text transform="translate(41.8 719.52) scale(1.08 1)" font-size="10.5" text-anchor="end" fill="#111" stroke="#111" stroke-width="0.3">-500</text>
<text transform="translate(147.4 789.9) scale(1.08 1)" font-size="10.5" text-anchor="middle" fill="#111" stroke="#111" stroke-width="0.3">0</text>
<text transform="translate(41.8 681.6) scale(1.08 1)" font-size="10.5" text-anchor="end" fill="#111" stroke="#111" stroke-width="0.3">0</text>
<text transform="translate(187.09 789.9) scale(1.08 1)" font-size="10.5" text-anchor="middle" fill="#111" stroke="#111" stroke-width="0.3">500</text>
<text transform="translate(41.8 643.68) scale(1.08 1)" font-size="10.5" text-anchor="end" fill="#111" stroke="#111" stroke-width="0.3">500</text>
<text transform="translate(226.78 789.9) scale(1.08 1)" font-size="10.5" text-anchor="middle" fill="#111" stroke="#111" stroke-width="0.3">1000</text>
<text transform="translate(41.8 605.75) scale(1.08 1)" font-size="10.5" text-anchor="end" fill="#111" stroke="#111" stroke-width="0.3">1000</text>
<text transform="translate(96.2 806.7) scale(1.085 1)" font-size="14" fill="#111" stroke="#111" stroke-width="0.3">v<tspan font-size="9.5" dy="3">x</tspan><tspan dy="-3"> in CoM (m/s)</tspan></text>
<text transform="translate(11.2 734.4) rotate(-90) scale(1.085 1)" font-size="14" fill="#111" stroke="#111" stroke-width="0.3">v<tspan font-size="9.5" dy="3.4">rho</tspan><tspan dy="-3.4"> in CoM (m/s)</tspan></text>
<rect x="251.8" y="766.54" width="11.6" height="9.96" fill="#6300ff"/>
<rect x="251.8" y="756.68" width="11.6" height="9.96" fill="#3300ff"/>
<rect x="251.8" y="746.82" width="11.6" height="9.96" fill="#0014ff"/>
<rect x="251.8" y="736.96" width="11.6" height="9.96" fill="#0044ff"/>
<rect x="251.8" y="727.1" width="11.6" height="9.96" fill="#008bff"/>
<rect x="251.8" y="717.24" width="11.6" height="9.96" fill="#00bbff"/>
<rect x="251.8" y="707.38" width="11.6" height="9.96" fill="#00fffc"/>
<rect x="251.8" y="697.52" width="11.6" height="9.96" fill="#00ffcc"/>
<rect x="251.8" y="687.66" width="11.6" height="9.96" fill="#00ff85"/>
<rect x="251.8" y="677.8" width="11.6" height="9.96" fill="#00ff55"/>
<rect x="251.8" y="667.94" width="11.6" height="9.96" fill="#00ff0e"/>
<rect x="251.8" y="658.08" width="11.6" height="9.96" fill="#22ff00"/>
<rect x="251.8" y="648.22" width="11.6" height="9.96" fill="#69ff00"/>
<rect x="251.8" y="638.36" width="11.6" height="9.96" fill="#99ff00"/>
<rect x="251.8" y="628.5" width="11.6" height="9.96" fill="#e0ff00"/>
<rect x="251.8" y="618.64" width="11.6" height="9.96" fill="#ffee00"/>
<rect x="251.8" y="608.78" width="11.6" height="9.96" fill="#ffa700"/>
<rect x="251.8" y="598.92" width="11.6" height="9.96" fill="#ff7700"/>
<rect x="251.8" y="589.06" width="11.6" height="9.96" fill="#ff3000"/>
<rect x="251.8" y="579.2" width="11.6" height="9.96" fill="#ff0000"/>
<line x1="263.8" y1="579.2" x2="263.8" y2="776.4" stroke="#1a2a2a" stroke-width="0.9"/>
<line x1="257.9" y1="758.6" x2="263.4" y2="758.6" stroke="#222" stroke-width="1"/>
<text transform="translate(267.3 762.4) scale(1.08 1)" font-size="10.5" fill="#111" stroke="#111" stroke-width="0.3">0</text>
<line x1="257.9" y1="723.01" x2="263.4" y2="723.01" stroke="#222" stroke-width="1"/>
<text transform="translate(267.3 726.81) scale(1.08 1)" font-size="10.5" fill="#111" stroke="#111" stroke-width="0.3">0.2</text>
<line x1="257.9" y1="687.41" x2="263.4" y2="687.41" stroke="#222" stroke-width="1"/>
<text transform="translate(267.3 691.21) scale(1.08 1)" font-size="10.5" fill="#111" stroke="#111" stroke-width="0.3">0.4</text>
<line x1="257.9" y1="651.82" x2="263.4" y2="651.82" stroke="#222" stroke-width="1"/>
<text transform="translate(267.3 655.62) scale(1.08 1)" font-size="10.5" fill="#111" stroke="#111" stroke-width="0.3">0.6</text>
<line x1="257.9" y1="616.22" x2="263.4" y2="616.22" stroke="#222" stroke-width="1"/>
<text transform="translate(267.3 620.02) scale(1.08 1)" font-size="10.5" fill="#111" stroke="#111" stroke-width="0.3">0.8</text>
<text transform="translate(267.3 584.42) scale(1.08 1)" font-size="10.5" fill="#111" stroke="#111" stroke-width="0.3">1</text>
<line x1="250.6" y1="677.6" x2="277" y2="677.6" stroke="#000" stroke-width="1" opacity="0.85"/>
</g>
<g id="R0">
<path d="M340.99 271.6V278.5 M343.77 269.1V276.1 M346.55 267.6V274.7 M349.33 267.4V274.6 M352.11 270.0V277.0 M354.89 268.1V275.2 M357.67 265.2V272.5 M360.45 262.4V269.9 M363.23 258.9V266.6 M366.01 256.6V264.4 M368.79 256.4V264.2 M371.57 254.4V262.3 M374.35 252.4V260.4 M377.13 250.7V258.8 M379.91 249.0V257.2 M382.69 246.5V254.9 M385.47 241.1V249.7 M388.25 240.2V248.9 M391.03 240.4V249.2 M393.81 239.9V248.7 M396.59 236.2V245.1 M399.37 213.3V223.6 M402.15 196.2V207.5 M404.93 173.0V185.7 M407.71 157.6V171.2 M410.49 147.1V161.3 M413.27 133.6V148.5 M416.05 120.2V135.9 M418.83 105.9V122.5 M421.61 101.3V118.2 M424.39 102.9V119.7 M427.17 123.8V139.3 M429.95 146.6V160.8 M432.73 130.3V145.4 M435.51 119.4V135.2 M438.29 109.4V125.7 M441.07 122.2V137.8 M443.85 258.7V266.3" fill="none" stroke="#3a3a3a" stroke-width="1.0"/>
<path d="M339.60 283.4 V275.0H342.38 V272.6H345.16 V271.1H347.94 V271.0H350.72 V273.5H353.50 V271.6H356.28 V268.8H359.06 V266.1H361.84 V262.8H364.62 V260.5H367.40 V260.3H370.18 V258.3H372.96 V256.4H375.74 V254.8H378.52 V253.1H381.30 V250.7H384.08 V245.4H386.86 V244.6H389.64 V244.8H392.42 V244.3H395.20 V240.6H397.98 V218.5H400.76 V201.9H403.54 V179.4H406.32 V164.4H409.10 V154.2H411.88 V141.0H414.66 V128.0H417.44 V114.2H420.22 V109.7H423.00 V111.3H425.78 V131.6H428.56 V153.7H431.34 V137.9H434.12 V127.3H436.90 V117.5H439.68 V130.0H442.46 V262.5H445.24 V269.4H448.02 V283.4" fill="none" stroke="#1e1e1e" stroke-width="1.2"/>
<rect x="313.2" y="86.4" width="206.2" height="197" fill="none" stroke="#333" stroke-width="1"/>
<path d="M316.98 283.4v-6.2 M321.5 283.4v-3 M326.03 283.4v-3 M330.55 283.4v-3 M335.08 283.4v-3 M339.6 283.4v-6.2 M344.12 283.4v-3 M348.65 283.4v-3 M353.18 283.4v-3 M357.7 283.4v-3 M362.23 283.4v-6.2 M366.75 283.4v-3 M371.28 283.4v-3 M375.8 283.4v-3 M380.33 283.4v-3 M384.85 283.4v-6.2 M389.38 283.4v-3 M393.9 283.4v-3 M398.43 283.4v-3 M402.95 283.4v-3 M407.48 283.4v-6.2 M412 283.4v-3 M416.53 283.4v-3 M421.05 283.4v-3 M425.58 283.4v-3 M430.1 283.4v-6.2 M434.62 283.4v-3 M439.15 283.4v-3 M443.68 283.4v-3 M448.2 283.4v-3 M452.73 283.4v-6.2 M457.25 283.4v-3 M461.78 283.4v-3 M466.3 283.4v-3 M470.83 283.4v-3 M475.35 283.4v-6.2 M479.88 283.4v-3 M484.4 283.4v-3 M488.93 283.4v-3 M493.45 283.4v-3 M497.98 283.4v-6.2 M502.5 283.4v-3 M507.03 283.4v-3 M511.55 283.4v-3 M516.08 283.4v-3 M313.2 278.62h3 M313.2 269.77h3 M313.2 260.92h3 M313.2 252.07h6.2 M313.2 243.22h3 M313.2 234.37h3 M313.2 225.52h3 M313.2 216.67h6.2 M313.2 207.82h3 M313.2 198.97h3 M313.2 190.12h3 M313.2 181.27h6.2 M313.2 172.42h3 M313.2 163.57h3 M313.2 154.72h3 M313.2 145.87h6.2 M313.2 137.02h3 M313.2 128.17h3 M313.2 119.32h3 M313.2 110.47h6.2 M313.2 101.62h3 M313.2 92.77h3" stroke="#333" stroke-width="1" fill="none"/>
<text transform="translate(316.98 296.9) scale(1.08 1)" font-size="10.5" text-anchor="middle" fill="#111" stroke="#111" stroke-width="0.3">-0.5</text>
<text transform="translate(339.6 296.9) scale(1.08 1)" font-size="10.5" text-anchor="middle" fill="#111" stroke="#111" stroke-width="0.3">0</text>
<text transform="translate(362.23 296.9) scale(1.08 1)" font-size="10.5" text-anchor="middle" fill="#111" stroke="#111" stroke-width="0.3">0.5</text>
<text transform="translate(384.85 296.9) scale(1.08 1)" font-size="10.5" text-anchor="middle" fill="#111" stroke="#111" stroke-width="0.3">1</text>
<text transform="translate(407.48 296.9) scale(1.08 1)" font-size="10.5" text-anchor="middle" fill="#111" stroke="#111" stroke-width="0.3">1.5</text>
<text transform="translate(430.1 296.9) scale(1.08 1)" font-size="10.5" text-anchor="middle" fill="#111" stroke="#111" stroke-width="0.3">2</text>
<text transform="translate(452.73 296.9) scale(1.08 1)" font-size="10.5" text-anchor="middle" fill="#111" stroke="#111" stroke-width="0.3">2.5</text>
<text transform="translate(475.35 296.9) scale(1.08 1)" font-size="10.5" text-anchor="middle" fill="#111" stroke="#111" stroke-width="0.3">3</text>
<text transform="translate(497.98 296.9) scale(1.08 1)" font-size="10.5" text-anchor="middle" fill="#111" stroke="#111" stroke-width="0.3">3.5</text>
<text transform="translate(308.2 255.87) scale(1.08 1)" font-size="10.5" text-anchor="end" fill="#111" stroke="#111" stroke-width="0.3">0.2</text>
<text transform="translate(308.2 220.47) scale(1.08 1)" font-size="10.5" text-anchor="end" fill="#111" stroke="#111" stroke-width="0.3">0.4</text>
<text transform="translate(308.2 185.07) scale(1.08 1)" font-size="10.5" text-anchor="end" fill="#111" stroke="#111" stroke-width="0.3">0.6</text>
<text transform="translate(308.2 149.67) scale(1.08 1)" font-size="10.5" text-anchor="end" fill="#111" stroke="#111" stroke-width="0.3">0.8</text>
<text transform="translate(308.2 114.27) scale(1.08 1)" font-size="10.5" text-anchor="end" fill="#111" stroke="#111" stroke-width="0.3">1</text>
<text transform="translate(389.6 313.7) scale(1.09 1)" font-size="14" fill="#111" stroke="#111" stroke-width="0.3">E<tspan font-size="10.5" dy="3" dx="0.6">int</tspan><tspan dy="-3" dx="0.6" font-size="14.6">(eV)</tspan></text>
<text transform="translate(299.1 109.6) rotate(-90)" font-size="14.3" fill="#111" stroke="#111" stroke-width="0.3">a.u.</text>
</g>
<g id="R1">
<path d="M335.43 523.6V527.5 M338.21 521.1V525.2 M340.99 519.3V523.4 M343.77 518.0V522.1 M346.55 516.5V520.7 M349.33 517.3V521.4 M352.11 518.6V522.7 M354.89 517.8V522.0 M357.67 517.1V521.3 M360.45 516.4V520.6 M363.23 515.3V519.5 M366.01 513.1V517.4 M368.79 512.2V516.6 M371.57 513.2V517.5 M374.35 515.0V519.3 M377.13 514.6V518.9 M379.91 511.8V516.2 M382.69 509.3V513.7 M385.47 507.2V511.7 M388.25 506.6V511.2 M391.03 503.6V508.2 M393.81 492.7V497.7 M396.59 487.1V492.3 M399.37 484.9V490.2 M402.15 472.5V478.2 M404.93 456.6V462.9 M407.71 438.9V445.8 M410.49 409.7V417.7 M413.27 396.4V404.8 M416.05 382.8V391.7 M418.83 361.4V371.0 M421.61 352.7V362.7 M424.39 349.3V359.4 M427.17 344.4V354.6 M429.95 344.9V355.1 M432.73 367.3V376.8 M435.51 395.2V403.7 M438.29 422.7V430.3 M441.07 440.1V447.0 M443.85 456.8V463.1 M446.63 470.0V475.8 M449.41 477.1V482.7 M452.19 473.6V479.4 M454.97 469.5V475.4 M457.75 474.6V480.2 M460.53 502.3V506.9" fill="none" stroke="#3a3a3a" stroke-width="1.0"/>
<path d="M328.48 529.5 V527.5H331.26 V527.5H334.04 V525.6H336.82 V523.1H339.60 V521.4H342.38 V520.1H345.16 V518.6H347.94 V519.3H350.72 V520.6H353.50 V519.9H356.28 V519.2H359.06 V518.5H361.84 V517.4H364.62 V515.3H367.40 V514.4H370.18 V515.4H372.96 V517.1H375.74 V516.8H378.52 V514.0H381.30 V511.5H384.08 V509.4H386.86 V508.9H389.64 V505.9H392.42 V495.2H395.20 V489.7H397.98 V487.6H400.76 V475.4H403.54 V459.8H406.32 V442.3H409.10 V413.7H411.88 V400.6H414.66 V387.3H417.44 V366.2H420.22 V357.7H423.00 V354.3H425.78 V349.5H428.56 V350.0H431.34 V372.0H434.12 V399.5H436.90 V426.5H439.68 V443.6H442.46 V459.9H445.24 V472.9H448.02 V479.9H450.80 V476.5H453.58 V472.5H456.36 V477.4H459.14 V504.6H461.92 V527.5H464.70 V527.5H467.48 V527.5H470.26 V529.5" fill="none" stroke="#1e1e1e" stroke-width="1.2"/>
<rect x="313.2" y="332.1" width="206.2" height="197.4" fill="none" stroke="#333" stroke-width="1"/>
<path d="M316.98 529.5v-6.2 M321.5 529.5v-3 M326.03 529.5v-3 M330.55 529.5v-3 M335.08 529.5v-3 M339.6 529.5v-6.2 M344.12 529.5v-3 M348.65 529.5v-3 M353.18 529.5v-3 M357.7 529.5v-3 M362.23 529.5v-6.2 M366.75 529.5v-3 M371.28 529.5v-3 M375.8 529.5v-3 M380.33 529.5v-3 M384.85 529.5v-6.2 M389.38 529.5v-3 M393.9 529.5v-3 M398.43 529.5v-3 M402.95 529.5v-3 M407.48 529.5v-6.2 M412 529.5v-3 M416.53 529.5v-3 M421.05 529.5v-3 M425.58 529.5v-3 M430.1 529.5v-6.2 M434.62 529.5v-3 M439.15 529.5v-3 M443.68 529.5v-3 M448.2 529.5v-3 M452.73 529.5v-6.2 M457.25 529.5v-3 M461.78 529.5v-3 M466.3 529.5v-3 M470.83 529.5v-3 M475.35 529.5v-6.2 M479.88 529.5v-3 M484.4 529.5v-3 M488.93 529.5v-3 M493.45 529.5v-3 M497.98 529.5v-6.2 M502.5 529.5v-3 M507.03 529.5v-3 M511.55 529.5v-3 M516.08 529.5v-3 M313.2 520.36h3 M313.2 511.22h3 M313.2 502.08h3 M313.2 492.94h6.2 M313.2 483.81h3 M313.2 474.67h3 M313.2 465.53h3 M313.2 456.39h6.2 M313.2 447.25h3 M313.2 438.11h3 M313.2 428.97h3 M313.2 419.83h6.2 M313.2 410.69h3 M313.2 401.56h3 M313.2 392.42h3 M313.2 383.28h6.2 M313.2 374.14h3 M313.2 365h3 M313.2 355.86h3 M313.2 346.72h6.2 M313.2 337.58h3" stroke="#333" stroke-width="1" fill="none"/>
<text transform="translate(316.98 543) scale(1.08 1)" font-size="10.5" text-anchor="middle" fill="#111" stroke="#111" stroke-width="0.3">-0.5</text>
<text transform="translate(339.6 543) scale(1.08 1)" font-size="10.5" text-anchor="middle" fill="#111" stroke="#111" stroke-width="0.3">0</text>
<text transform="translate(362.23 543) scale(1.08 1)" font-size="10.5" text-anchor="middle" fill="#111" stroke="#111" stroke-width="0.3">0.5</text>
<text transform="translate(384.85 543) scale(1.08 1)" font-size="10.5" text-anchor="middle" fill="#111" stroke="#111" stroke-width="0.3">1</text>
<text transform="translate(407.48 543) scale(1.08 1)" font-size="10.5" text-anchor="middle" fill="#111" stroke="#111" stroke-width="0.3">1.5</text>
<text transform="translate(430.1 543) scale(1.08 1)" font-size="10.5" text-anchor="middle" fill="#111" stroke="#111" stroke-width="0.3">2</text>
<text transform="translate(452.73 543) scale(1.08 1)" font-size="10.5" text-anchor="middle" fill="#111" stroke="#111" stroke-width="0.3">2.5</text>
<text transform="translate(475.35 543) scale(1.08 1)" font-size="10.5" text-anchor="middle" fill="#111" stroke="#111" stroke-width="0.3">3</text>
<text transform="translate(497.98 543) scale(1.08 1)" font-size="10.5" text-anchor="middle" fill="#111" stroke="#111" stroke-width="0.3">3.5</text>
<text transform="translate(308.2 496.74) scale(1.08 1)" font-size="10.5" text-anchor="end" fill="#111" stroke="#111" stroke-width="0.3">0.2</text>
<text transform="translate(308.2 460.19) scale(1.08 1)" font-size="10.5" text-anchor="end" fill="#111" stroke="#111" stroke-width="0.3">0.4</text>
<text transform="translate(308.2 423.63) scale(1.08 1)" font-size="10.5" text-anchor="end" fill="#111" stroke="#111" stroke-width="0.3">0.6</text>
<text transform="translate(308.2 387.08) scale(1.08 1)" font-size="10.5" text-anchor="end" fill="#111" stroke="#111" stroke-width="0.3">0.8</text>
<text transform="translate(308.2 350.52) scale(1.08 1)" font-size="10.5" text-anchor="end" fill="#111" stroke="#111" stroke-width="0.3">1</text>
<text transform="translate(389.6 559.8) scale(1.09 1)" font-size="14" fill="#111" stroke="#111" stroke-width="0.3">E<tspan font-size="10.5" dy="3" dx="0.6">int</tspan><tspan dy="-3" dx="0.6" font-size="14.6">(eV)</tspan></text>
<text transform="translate(299.1 355.3) rotate(-90)" font-size="14.3" fill="#111" stroke="#111" stroke-width="0.3">a.u.</text>
</g>
<g id="R2">
<rect x="461.6" y="579.2" width="15.5" height="197.2" fill="#c8c8c8"/>
<path d="M338.21 762.9V767.1 M340.99 760.5V764.8 M343.77 759.6V763.9 M346.55 760.8V765.1 M349.33 761.9V766.1 M352.11 760.0V764.3 M354.89 758.4V762.8 M357.67 757.0V761.4 M360.45 756.0V760.4 M363.23 755.3V759.8 M366.01 754.6V759.1 M368.79 753.9V758.5 M371.57 751.7V756.3 M374.35 748.9V753.6 M377.13 748.5V753.2 M379.91 747.5V752.3 M382.69 745.2V750.1 M385.47 743.3V748.2 M388.25 741.9V746.9 M391.03 742.9V747.8 M393.81 740.5V745.5 M396.59 731.1V736.4 M399.37 725.6V731.2 M402.15 725.6V731.2 M404.93 720.7V726.4 M407.71 710.2V716.2 M410.49 696.2V702.7 M413.27 689.1V695.9 M416.05 672.0V679.4 M418.83 659.6V667.5 M421.61 632.1V640.9 M424.39 625.7V634.8 M427.17 612.2V621.8 M429.95 602.9V612.8 M432.73 593.2V603.4 M435.51 593.0V603.3 M438.29 596.9V606.9 M441.07 613.7V623.2 M443.85 619.2V628.5 M446.63 639.2V647.8 M449.41 652.2V660.3 M452.19 670.6V678.0 M454.97 688.4V695.3 M457.75 701.8V708.2 M460.53 718.7V724.4 M463.31 729.7V735.1 M466.09 735.2V740.3 M468.87 739.2V744.3 M471.65 742.8V747.8 M474.43 765.5V769.6 M477.21 766.7V770.7" fill="none" stroke="#3a3a3a" stroke-width="1.0"/>
<path d="M336.82 776.4 V765.0H339.60 V762.7H342.38 V761.7H345.16 V762.9H347.94 V764.0H350.72 V762.2H353.50 V760.6H356.28 V759.2H359.06 V758.2H361.84 V757.5H364.62 V756.9H367.40 V756.2H370.18 V754.0H372.96 V751.3H375.74 V750.9H378.52 V749.9H381.30 V747.7H384.08 V745.7H386.86 V744.4H389.64 V745.4H392.42 V743.0H395.20 V733.8H397.98 V728.4H400.76 V728.4H403.54 V723.5H406.32 V713.2H409.10 V699.4H411.88 V692.5H414.66 V675.7H417.44 V663.6H420.22 V636.5H423.00 V630.3H425.78 V617.0H428.56 V607.9H431.34 V598.3H434.12 V598.1H436.90 V601.9H439.68 V618.5H442.46 V623.8H445.24 V643.5H448.02 V656.3H450.80 V674.3H453.58 V691.8H456.36 V705.0H459.14 V721.5H461.92 V732.4H464.70 V737.8H467.48 V741.8H470.26 V745.3H473.04 V767.5H475.82 V768.7H478.60 V776.4" fill="none" stroke="#1e1e1e" stroke-width="1.2"/>
<rect x="313.2" y="579.2" width="206.2" height="197.2" fill="none" stroke="#333" stroke-width="1"/>
<path d="M316.98 776.4v-6.2 M321.5 776.4v-3 M326.03 776.4v-3 M330.55 776.4v-3 M335.08 776.4v-3 M339.6 776.4v-6.2 M344.12 776.4v-3 M348.65 776.4v-3 M353.18 776.4v-3 M357.7 776.4v-3 M362.23 776.4v-6.2 M366.75 776.4v-3 M371.28 776.4v-3 M375.8 776.4v-3 M380.33 776.4v-3 M384.85 776.4v-6.2 M389.38 776.4v-3 M393.9 776.4v-3 M398.43 776.4v-3 M402.95 776.4v-3 M407.48 776.4v-6.2 M412 776.4v-3 M416.53 776.4v-3 M421.05 776.4v-3 M425.58 776.4v-3 M430.1 776.4v-6.2 M434.62 776.4v-3 M439.15 776.4v-3 M443.68 776.4v-3 M448.2 776.4v-3 M452.73 776.4v-6.2 M457.25 776.4v-3 M461.78 776.4v-3 M466.3 776.4v-3 M470.83 776.4v-3 M475.35 776.4v-6.2 M479.88 776.4v-3 M484.4 776.4v-3 M488.93 776.4v-3 M493.45 776.4v-3 M497.98 776.4v-6.2 M502.5 776.4v-3 M507.03 776.4v-3 M511.55 776.4v-3 M516.08 776.4v-3 M313.2 767.37h3 M313.2 758.34h3 M313.2 749.31h3 M313.2 740.28h6.2 M313.2 731.25h3 M313.2 722.22h3 M313.2 713.19h3 M313.2 704.17h6.2 M313.2 695.14h3 M313.2 686.11h3 M313.2 677.08h3 M313.2 668.05h6.2 M313.2 659.02h3 M313.2 649.99h3 M313.2 640.96h3 M313.2 631.93h6.2 M313.2 622.9h3 M313.2 613.87h3 M313.2 604.84h3 M313.2 595.81h6.2 M313.2 586.78h3" stroke="#333" stroke-width="1" fill="none"/>
<text transform="translate(316.98 789.9) scale(1.08 1)" font-size="10.5" text-anchor="middle" fill="#111" stroke="#111" stroke-width="0.3">-0.5</text>
<text transform="translate(339.6 789.9) scale(1.08 1)" font-size="10.5" text-anchor="middle" fill="#111" stroke="#111" stroke-width="0.3">0</text>
<text transform="translate(362.23 789.9) scale(1.08 1)" font-size="10.5" text-anchor="middle" fill="#111" stroke="#111" stroke-width="0.3">0.5</text>
<text transform="translate(384.85 789.9) scale(1.08 1)" font-size="10.5" text-anchor="middle" fill="#111" stroke="#111" stroke-width="0.3">1</text>
<text transform="translate(407.48 789.9) scale(1.08 1)" font-size="10.5" text-anchor="middle" fill="#111" stroke="#111" stroke-width="0.3">1.5</text>
<text transform="translate(430.1 789.9) scale(1.08 1)" font-size="10.5" text-anchor="middle" fill="#111" stroke="#111" stroke-width="0.3">2</text>
<text transform="translate(452.73 789.9) scale(1.08 1)" font-size="10.5" text-anchor="middle" fill="#111" stroke="#111" stroke-width="0.3">2.5</text>
<text transform="translate(475.35 789.9) scale(1.08 1)" font-size="10.5" text-anchor="middle" fill="#111" stroke="#111" stroke-width="0.3">3</text>
<text transform="translate(497.98 789.9) scale(1.08 1)" font-size="10.5" text-anchor="middle" fill="#111" stroke="#111" stroke-width="0.3">3.5</text>
<text transform="translate(308.2 744.08) scale(1.08 1)" font-size="10.5" text-anchor="end" fill="#111" stroke="#111" stroke-width="0.3">0.2</text>
<text transform="translate(308.2 707.97) scale(1.08 1)" font-size="10.5" text-anchor="end" fill="#111" stroke="#111" stroke-width="0.3">0.4</text>
<text transform="translate(308.2 671.85) scale(1.08 1)" font-size="10.5" text-anchor="end" fill="#111" stroke="#111" stroke-width="0.3">0.6</text>
<text transform="translate(308.2 635.73) scale(1.08 1)" font-size="10.5" text-anchor="end" fill="#111" stroke="#111" stroke-width="0.3">0.8</text>
<text transform="translate(308.2 599.61) scale(1.08 1)" font-size="10.5" text-anchor="end" fill="#111" stroke="#111" stroke-width="0.3">1</text>
<text transform="translate(389.6 806.7) scale(1.09 1)" font-size="14" fill="#111" stroke="#111" stroke-width="0.3">E<tspan font-size="10.5" dy="3" dx="0.6">int</tspan><tspan dy="-3" dx="0.6" font-size="14.6">(eV)</tspan></text>
<text transform="translate(299.1 602.4) rotate(-90)" font-size="14.3" fill="#111" stroke="#111" stroke-width="0.3">a.u.</text>
</g>
</svg></body></html>
